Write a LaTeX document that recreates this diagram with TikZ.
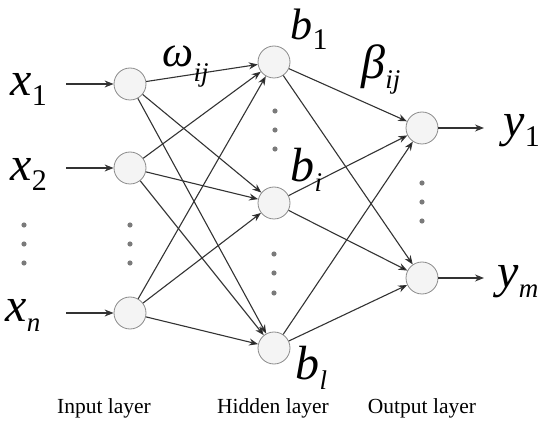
\documentclass[tikz,border=0pt]{standalone}
\usepackage{fontspec}
\setmainfont{Liberation Serif}
\newfontfamily\varfont{Liberation Serif Italic}
\usepackage{xcolor}
\usetikzlibrary{arrows.meta}
\definecolor{nodefill}{HTML}{F4F4F4}
\definecolor{nodeline}{HTML}{8C8C8C}
\definecolor{wirecol}{HTML}{333333}
\definecolor{dotgray}{HTML}{7A7A7A}
\newcommand{\subidx}[1]{\raisebox{-10pt}{\fontsize{27}{27}\selectfont #1}}
\newcommand{\subnum}[1]{\raisebox{-10pt}{\fontsize{30}{30}\selectfont\rmfamily #1}}

\begin{document}
\begin{tikzpicture}[x=1pt,y=-1pt,line width=1.1pt,
  neuron/.style={circle,draw=nodeline,fill=nodefill,line width=0.8pt,
    minimum size=32pt,inner sep=0pt},
  wire/.style={draw=wirecol,-{Stealth[length=9pt,width=7pt]}},
  bigvar/.style={inner sep=0pt,anchor=base west,font=\fontsize{48}{48}\selectfont\varfont},
  midvar/.style={bigvar,font=\fontsize{44}{44}\selectfont\varfont},
  layername/.style={inner sep=0pt,font=\fontsize{21.5}{21.5}\selectfont}]
\useasboundingbox (0,0) rectangle (550,425);
% neurons
\node[neuron] (in1) at (130,84) {};
\node[neuron] (in2) at (130,168) {};
\node[neuron] (inn) at (130,313) {};
\node[neuron] (hid1) at (274,62) {};
\node[neuron] (hidi) at (274,203) {};
\node[neuron] (hidl) at (274,348) {};
\node[neuron] (out1) at (422,128) {};
\node[neuron] (outm) at (422,278) {};
% input and output arrows
\coordinate (x1in) at (66,84);
\coordinate (x2in) at (66,168);
\coordinate (xnin) at (66,313);
\coordinate (y1out) at (484,128);
\coordinate (ymout) at (484,278);
\draw[wire] (x1in) -- (in1);
\draw[wire] (x2in) -- (in2);
\draw[wire] (xnin) -- (inn);
\draw[wire] (out1) -- (y1out);
\draw[wire] (outm) -- (ymout);
% weights
\draw[wire] (in1) edge (hid1) edge (hidi) edge (hidl);
\draw[wire] (in2) edge (hid1) edge (hidi) edge (hidl);
\draw[wire] (inn) edge (hid1) edge (hidi) edge (hidl);
\draw[wire] (hid1) edge (out1) edge (outm);
\draw[wire] (hidi) edge (out1) edge (outm);
\draw[wire] (hidl) edge (out1) edge (outm);
% dots
\fill[dotgray] (24,225) circle (2.6) (24,244) circle (2.6) (24,263) circle (2.6);
\fill[dotgray] (130,225) circle (2.6) (130,244) circle (2.6) (130,263) circle (2.6);
\fill[dotgray] (275,111) circle (2.6) (275,130) circle (2.6) (275,149) circle (2.6);
\fill[dotgray] (274,254) circle (2.6) (274,273) circle (2.6) (274,293) circle (2.6);
\fill[dotgray] (422,183) circle (2.6) (422,202) circle (2.6) (422,221) circle (2.6);
% labels
\node[bigvar] (labx1) at (10,96) {x\subnum{1}};
\node[bigvar] (labx2) at (10,181) {x\subnum{2}};
\node[bigvar] (labxn) at (5,322) {x\subidx{n}};
\node[midvar] (labw) at (162,67) {ω\raisebox{-5pt}{\subidx{ij}}};
\node[bigvar] (labbeta) at (361,79) {β\subidx{ij}};
\node[midvar] (labb1) at (290,40) {b\subnum{1}};
\node[bigvar] (labbi) at (290,182) {b\subidx{i}};
\node[bigvar] (labbl) at (295,380) {b\subidx{l}};
\node[bigvar] (laby1) at (503,137) {y\subnum{1}};
\node[bigvar] (labym) at (497,288) {y\subidx{m}};
\node[layername] (inlayer) at (104,408) {Input layer};
\node[layername] (hidlayer) at (273,408) {Hidden layer};
\node[layername] (outlayer) at (422,408) {Output layer};
\end{tikzpicture}
\end{document}
